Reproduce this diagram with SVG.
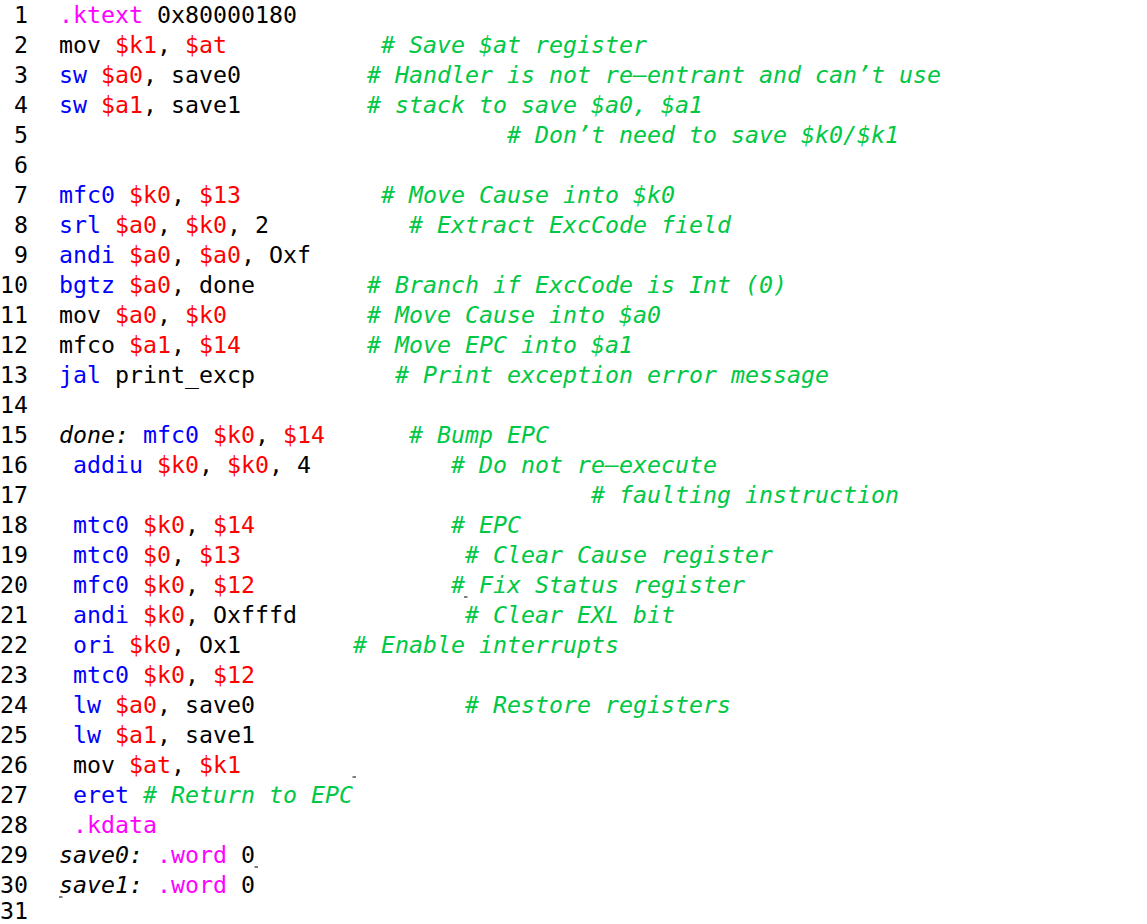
<svg xmlns="http://www.w3.org/2000/svg" width="1147" height="924" viewBox="0 0 1147 924">
<style>
text{font-family:"DejaVu Sans Mono","Liberation Mono",monospace;font-size:23.25px;fill:#000;white-space:pre}
.n{text-anchor:end}
.d{fill:#FF00FF}
.i{fill:#0000FF}
.r{fill:#FF0000}
.c{fill:#00C844;font-style:italic}
.l{font-style:italic}
</style>
<rect width="1147" height="924" fill="#fff"/>
<g id="line-numbers">
<text class="n" x="28" y="23">1</text>
<text class="n" x="28" y="53">2</text>
<text class="n" x="28" y="83">3</text>
<text class="n" x="28" y="113">4</text>
<text class="n" x="28" y="143">5</text>
<text class="n" x="28" y="173">6</text>
<text class="n" x="28" y="203">7</text>
<text class="n" x="28" y="233">8</text>
<text class="n" x="28" y="263">9</text>
<text class="n" x="28" y="293">10</text>
<text class="n" x="28" y="323">11</text>
<text class="n" x="28" y="353">12</text>
<text class="n" x="28" y="383">13</text>
<text class="n" x="28" y="413">14</text>
<text class="n" x="28" y="443">15</text>
<text class="n" x="28" y="473">16</text>
<text class="n" x="28" y="503">17</text>
<text class="n" x="28" y="533">18</text>
<text class="n" x="28" y="563">19</text>
<text class="n" x="28" y="593">20</text>
<text class="n" x="28" y="623">21</text>
<text class="n" x="28" y="653">22</text>
<text class="n" x="28" y="683">23</text>
<text class="n" x="28" y="713">24</text>
<text class="n" x="28" y="743">25</text>
<text class="n" x="28" y="773">26</text>
<text class="n" x="28" y="803">27</text>
<text class="n" x="28" y="833">28</text>
<text class="n" x="28" y="863">29</text>
<text class="n" x="28" y="893">30</text>
<text class="n" x="28" y="919">31</text>
</g>
<g id="code" xml:space="preserve">
<text x="59" y="23"><tspan class="d">.ktext</tspan> 0x80000180</text>
<text x="59" y="53">mov <tspan class="r">$k1</tspan>, <tspan class="r">$at</tspan></text>
<text x="59" y="83"><tspan class="i">sw</tspan> <tspan class="r">$a0</tspan>, save0</text>
<text x="59" y="113"><tspan class="i">sw</tspan> <tspan class="r">$a1</tspan>, save1</text>
<text x="59" y="203"><tspan class="i">mfc0</tspan> <tspan class="r">$k0</tspan>, <tspan class="r">$13</tspan></text>
<text x="59" y="233"><tspan class="i">srl</tspan> <tspan class="r">$a0</tspan>, <tspan class="r">$k0</tspan>, 2</text>
<text x="59" y="263"><tspan class="i">andi</tspan> <tspan class="r">$a0</tspan>, <tspan class="r">$a0</tspan>, Oxf</text>
<text x="59" y="293"><tspan class="i">bgtz</tspan> <tspan class="r">$a0</tspan>, done</text>
<text x="59" y="323">mov <tspan class="r">$a0</tspan>, <tspan class="r">$k0</tspan></text>
<text x="59" y="353">mfco <tspan class="r">$a1</tspan>, <tspan class="r">$14</tspan></text>
<text x="59" y="383"><tspan class="i">jal</tspan> print_excp</text>
<text x="59" y="443"><tspan class="l">done:</tspan> <tspan class="i">mfc0</tspan> <tspan class="r">$k0</tspan>, <tspan class="r">$14</tspan></text>
<text x="73" y="473"><tspan class="i">addiu</tspan> <tspan class="r">$k0</tspan>, <tspan class="r">$k0</tspan>, 4</text>
<text x="73" y="533"><tspan class="i">mtc0</tspan> <tspan class="r">$k0</tspan>, <tspan class="r">$14</tspan></text>
<text x="73" y="563"><tspan class="i">mtc0</tspan> <tspan class="r">$0</tspan>, <tspan class="r">$13</tspan></text>
<text x="73" y="593"><tspan class="i">mfc0</tspan> <tspan class="r">$k0</tspan>, <tspan class="r">$12</tspan></text>
<text x="73" y="623"><tspan class="i">andi</tspan> <tspan class="r">$k0</tspan>, Oxfffd</text>
<text x="73" y="653"><tspan class="i">ori</tspan> <tspan class="r">$k0</tspan>, Ox1</text>
<text x="73" y="683"><tspan class="i">mtc0</tspan> <tspan class="r">$k0</tspan>, <tspan class="r">$12</tspan></text>
<text x="73" y="713"><tspan class="i">lw</tspan> <tspan class="r">$a0</tspan>, save0</text>
<text x="73" y="743"><tspan class="i">lw</tspan> <tspan class="r">$a1</tspan>, save1</text>
<text x="73" y="773">mov <tspan class="r">$at</tspan>, <tspan class="r">$k1</tspan></text>
<text x="73" y="803"><tspan class="i">eret</tspan> <tspan class="c"># Return to EPC</tspan></text>
<text x="73" y="833"><tspan class="d">.kdata</tspan></text>
<text x="59" y="863"><tspan class="l">save0:</tspan> <tspan class="d">.word</tspan> 0</text>
<text x="59" y="893"><tspan class="l">save1:</tspan> <tspan class="d">.word</tspan> 0</text>
</g>
<g id="comments">
<text class="c" x="381" y="53"># Save $at register</text>
<text class="c" x="367" y="83"># Handler is not re–entrant and can’t use</text>
<text class="c" x="367" y="113"># stack to save $a0, $a1</text>
<text class="c" x="507" y="143"># Don’t need to save $k0/$k1</text>
<text class="c" x="381" y="203"># Move Cause into $k0</text>
<text class="c" x="409" y="233"># Extract ExcCode field</text>
<text class="c" x="367" y="293"># Branch if ExcCode is Int (0)</text>
<text class="c" x="367" y="323"># Move Cause into $a0</text>
<text class="c" x="367" y="353"># Move EPC into $a1</text>
<text class="c" x="395" y="383"># Print exception error message</text>
<text class="c" x="409" y="443"># Bump EPC</text>
<text class="c" x="451" y="473"># Do not re–execute</text>
<text class="c" x="591" y="503"># faulting instruction</text>
<text class="c" x="451" y="533"># EPC</text>
<text class="c" x="465" y="563"># Clear Cause register</text>
<text class="c" x="451" y="593"># Fix Status register</text>
<text class="c" x="465" y="623"># Clear EXL bit</text>
<text class="c" x="353" y="653"># Enable interrupts</text>
<text class="c" x="465" y="713"># Restore registers</text>
</g>
<g id="marks" fill="#000">
<rect x="464" y="596.5" width="3.5" height="1"/>
<rect x="352.5" y="776.5" width="3.5" height="1"/>
<rect x="254.5" y="866.5" width="3.5" height="1"/>
<rect x="59" y="896.5" width="3.5" height="1"/>
</g>
</svg>
